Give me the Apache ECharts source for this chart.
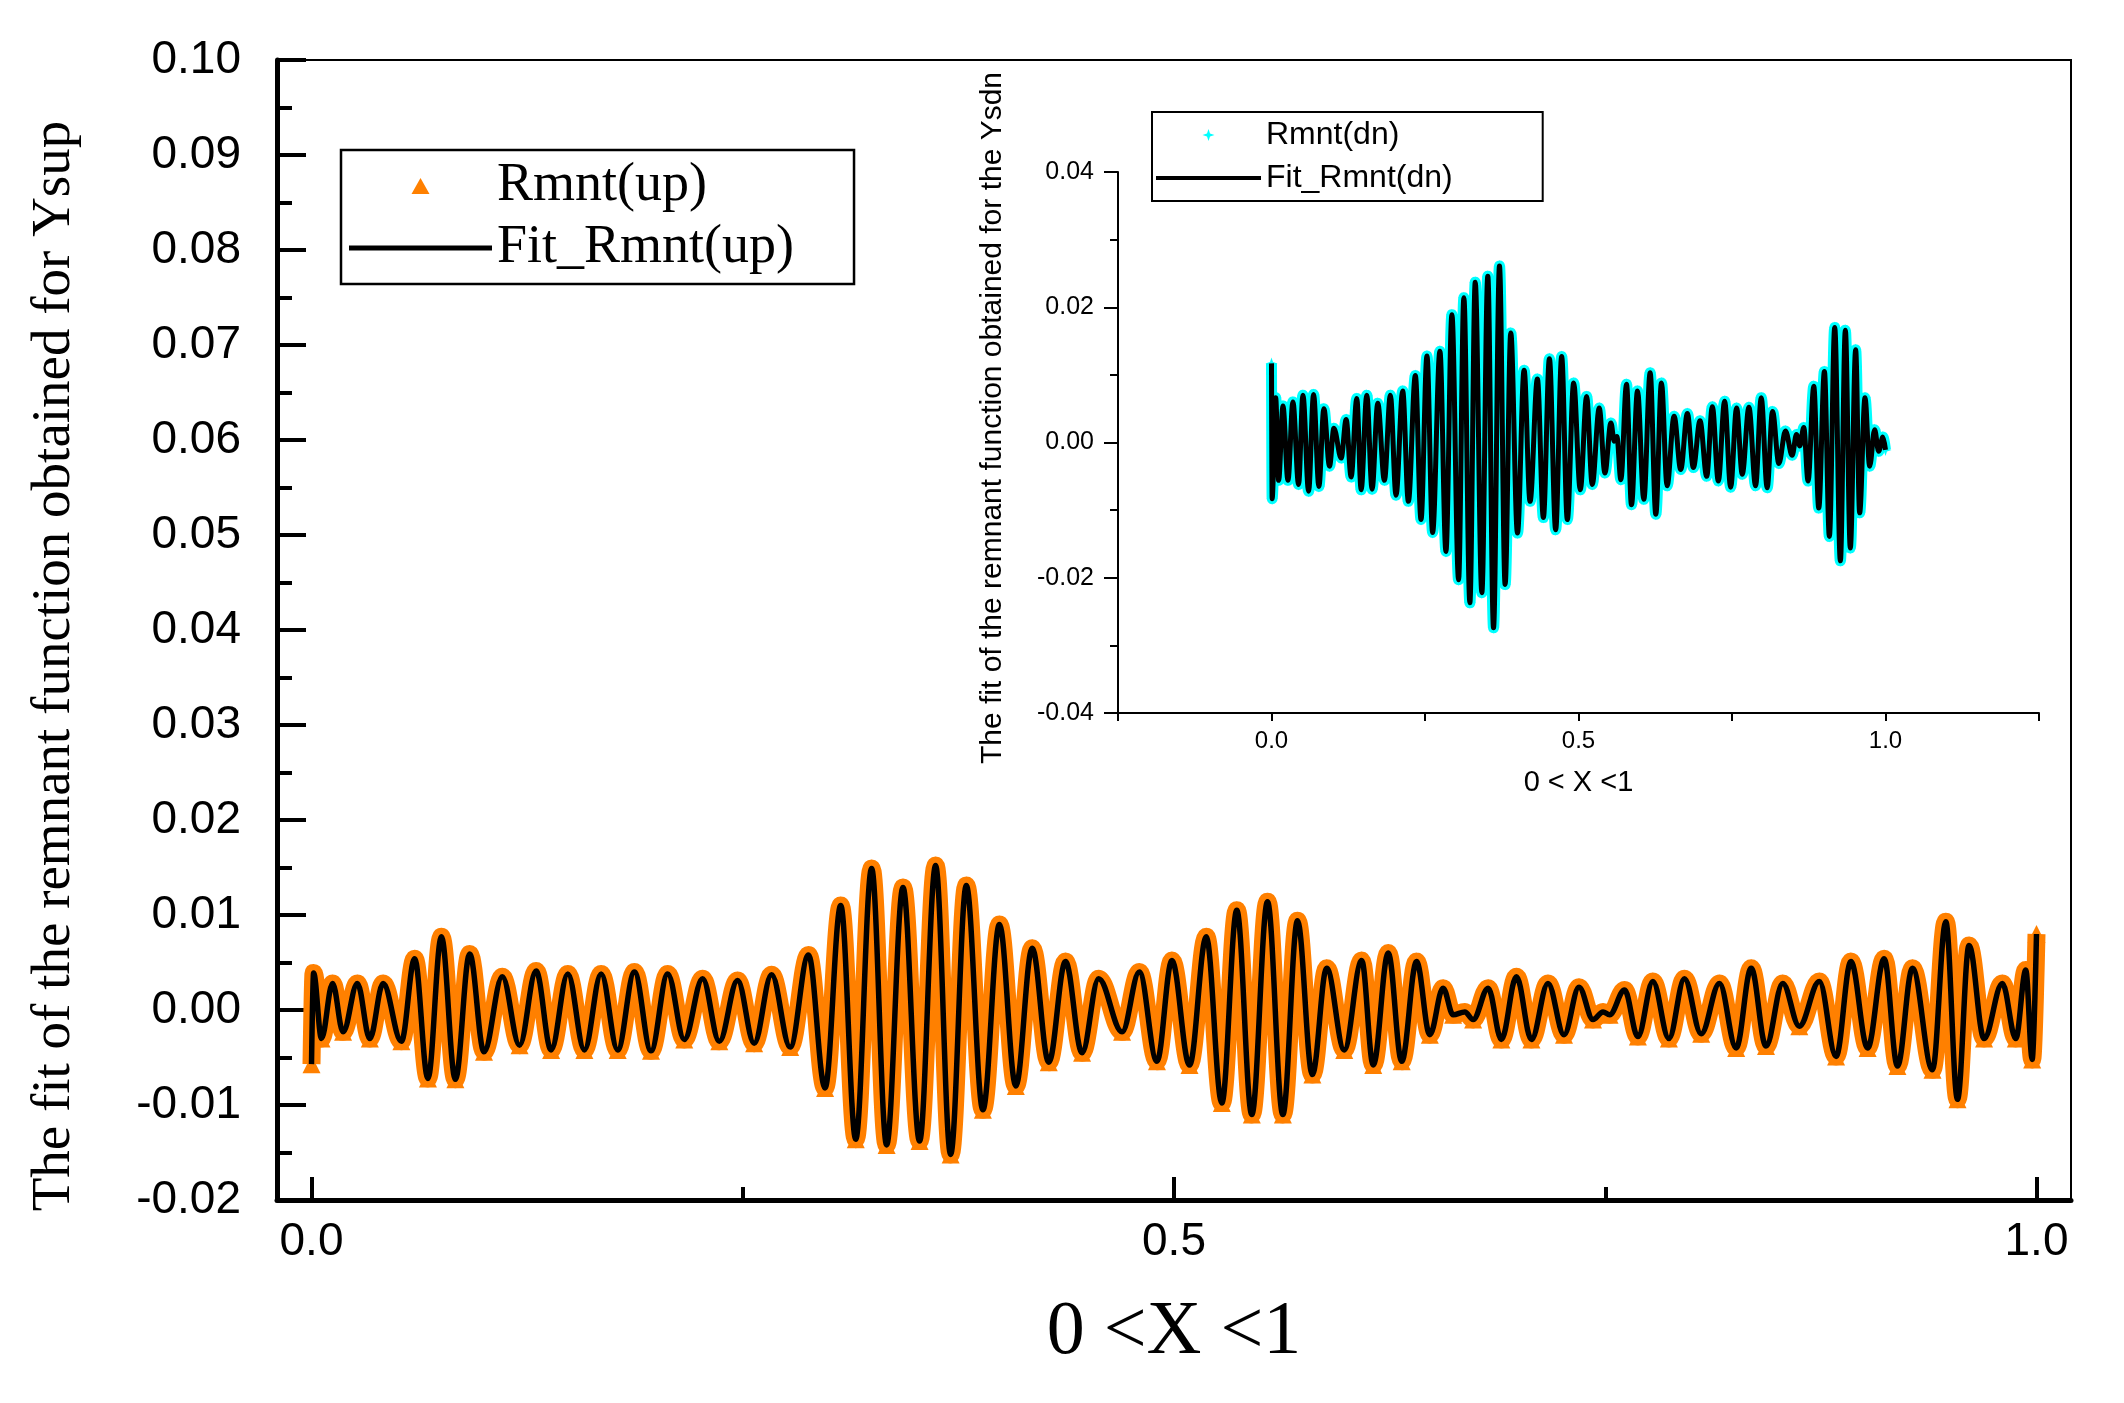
<!DOCTYPE html>
<html>
<head>
<meta charset="utf-8">
<script src="https://cdn.jsdelivr.net/npm/echarts@6/dist/echarts.min.js"></script>
<style>
html,body{margin:0;padding:0;background:#fff;}
#chart{width:2124px;height:1403px;}
</style>
</head>
<body>
<div id="chart"></div>
<script>
// ---------- Main plot (Ysup) : x positions and values ----------
const upX = [0.0000,0.0012,0.0058,0.0122,0.0183,0.0266,0.0338,0.0415,0.0521,0.0598,
0.0675,0.0753,0.0834,0.0917,0.1000,0.1106,0.1206,0.1302,0.1389,0.1486,
0.1582,0.1679,0.1775,0.1872,0.1968,0.2065,0.2161,0.2267,0.2364,0.2470,
0.2566,0.2667,0.2775,0.2881,0.2977,0.3068,0.3155,0.3247,0.3334,0.3429,
0.3525,0.3618,0.3705,0.3796,0.3892,0.3988,0.4083,0.4178,0.4274,0.4371,
0.4467,0.4563,0.4699,0.4799,0.4901,0.4988,0.5090,0.5187,0.5277,0.5364,
0.5451,0.5542,0.5631,0.5716,0.5802,0.5885,0.5987,0.6088,0.6155,0.6242,
0.6320,0.6406,0.6483,0.6560,0.6618,0.6686,0.6734,0.6821,0.6898,0.6985,
0.7072,0.7168,0.7261,0.7348,0.7429,0.7487,0.7525,0.7612,0.7689,0.7776,
0.7869,0.7959,0.8056,0.8162,0.8259,0.8346,0.8432,0.8529,0.8625,0.8741,
0.8838,0.8924,0.9021,0.9117,0.9194,0.9281,0.9397,0.9474,0.9542,0.9609,
0.9696,0.9802,0.9880,0.9938,0.9975,1.0000];
const upY = [-0.0057,0.0039,-0.0030,0.0028,-0.0023,0.0028,-0.0030,0.0028,-0.0033,0.0054,
-0.0072,0.0077,-0.0073,0.0059,-0.0044,0.0035,-0.0037,0.0041,-0.0042,0.0038,
-0.0042,0.0038,-0.0042,0.0040,-0.0043,0.0038,-0.0031,0.0033,-0.0033,0.0031,
-0.0035,0.0037,-0.0039,0.0058,-0.0082,0.0110,-0.0136,0.0149,-0.0142,0.0129,
-0.0138,0.0152,-0.0152,0.0131,-0.0105,0.0090,-0.0080,0.0065,-0.0055,0.0051,
-0.0045,0.0033,-0.0023,0.0040,-0.0054,0.0052,-0.0058,0.0077,-0.0098,0.0105,
-0.0110,0.0114,-0.0110,0.0094,-0.0068,0.0044,-0.0042,0.0052,-0.0058,0.0060,
-0.0054,0.0051,-0.0026,0.0023,-0.0005,-0.0002,-0.0010,0.0023,-0.0031,0.0035,
-0.0031,0.0028,-0.0026,0.0024,-0.0010,-0.0002,-0.0005,0.0021,-0.0028,0.0030,
-0.0030,0.0033,-0.0025,0.0028,-0.0040,0.0044,-0.0038,0.0028,-0.0017,0.0030,
-0.0049,0.0051,-0.0040,0.0054,-0.0059,0.0044,-0.0063,0.0093,-0.0094,0.0068,
-0.0030,0.0028,-0.0030,0.0042,-0.0052,0.0080];

// ---------- Inset plot (Ysdn) ----------
const dnX = [0.0000,0.0010,0.0068,0.0116,0.0187,0.0268,0.0349,0.0441,0.0512,0.0604,
0.0685,0.0772,0.0853,0.0945,0.1016,0.1135,0.1216,0.1297,0.1389,0.1460,
0.1552,0.1638,0.1731,0.1839,0.1936,0.2028,0.2137,0.2229,0.2343,0.2435,
0.2532,0.2624,0.2743,0.2841,0.2938,0.3047,0.3133,0.3231,0.3318,0.3426,
0.3523,0.3616,0.3713,0.3805,0.3897,0.4006,0.4114,0.4211,0.4331,0.4428,
0.4526,0.4628,0.4726,0.4818,0.4921,0.5029,0.5132,0.5224,0.5338,0.5430,
0.5528,0.5582,0.5625,0.5690,0.5782,0.5863,0.5961,0.6064,0.6167,0.6259,
0.6351,0.6443,0.6557,0.6665,0.6773,0.6871,0.6979,0.7088,0.7180,0.7277,
0.7380,0.7478,0.7575,0.7667,0.7776,0.7884,0.7976,0.8073,0.8160,0.8263,
0.8371,0.8480,0.8550,0.8604,0.8669,0.8739,0.8832,0.8913,0.9005,0.9086,
0.9173,0.9265,0.9346,0.9427,0.9514,0.9579,0.9666,0.9742,0.9823,0.9888,
0.9958,1.0000];
const dnY = [0.0117,-0.0083,0.0066,-0.0056,0.0054,-0.0056,0.0060,-0.0062,0.0070,-0.0072,
0.0071,-0.0065,0.0050,-0.0035,0.0021,-0.0023,0.0034,-0.0051,0.0065,-0.0070,
0.0070,-0.0069,0.0058,-0.0056,0.0070,-0.0078,0.0076,-0.0087,0.0099,-0.0114,
0.0128,-0.0133,0.0135,-0.0161,0.0189,-0.0203,0.0214,-0.0237,0.0237,-0.0222,
0.0246,-0.0274,0.0261,-0.0210,0.0162,-0.0134,0.0107,-0.0087,0.0094,-0.0111,
0.0124,-0.0129,0.0127,-0.0114,0.0088,-0.0070,0.0068,-0.0062,0.0051,-0.0045,
0.0029,0.0002,0.0009,-0.0055,0.0086,-0.0092,0.0076,-0.0084,0.0103,-0.0106,
0.0088,-0.0064,0.0039,-0.0040,0.0043,-0.0037,0.0032,-0.0050,0.0053,-0.0057,
0.0061,-0.0066,0.0051,-0.0047,0.0052,-0.0064,0.0066,-0.0067,0.0046,-0.0031,
0.0017,-0.0019,0.0012,-0.0005,0.0022,-0.0057,0.0083,-0.0097,0.0105,-0.0139,
0.0170,-0.0175,0.0166,-0.0156,0.0137,-0.0104,0.0066,-0.0035,0.0019,-0.0013,
0.0008,-0.0011];

// tick / label positions
const mainXLabelValues = [0, 0.5, 1.0];
const mainXMinorTicks = [0.25, 0.75];
const insetXLabelValues = [0, 0.5, 1.0];

const upData = upX.map((x, i) => [x, upY[i]]);
const dnData = dnX.map((x, i) => [x, dnY[i]]);

const SERIF = "'Liberation Serif','Times New Roman',serif";
const SANS = "'Liberation Sans',Arial,sans-serif";
const starPath = 'path://M0,-10L2.5,-2.5L10,0L2.5,2.5L0,10L-2.5,2.5L-10,0L-2.5,-2.5Z';
const triPath = 'path://M0,-10L9,6L-9,6Z';

const chart = echarts.init(document.getElementById('chart'), null, {renderer: 'canvas'});
chart.setOption({
  animation: false,
  backgroundColor: '#fff',
  grid: [
    {left: 277, top: 60, width: 1794, height: 1140, show: true, borderColor: '#000', borderWidth: 2, backgroundColor: 'transparent'},
    {left: 1118, top: 172, width: 921, height: 541, show: false}
  ],
  legend: [
    {
      orient: 'vertical', left: 341, top: 150,
      itemWidth: 143, itemHeight: 16, itemGap: 8, itemTextGap: 13,
      padding: [9, 60, 9, 8], symbolKeepAspect: true,
      borderColor: '#000', borderWidth: 2.5, selectedMode: false,
      textStyle: {fontFamily: SERIF, fontSize: 54, color: '#000', lineHeight: 52},
      data: [
        {name: 'Rmnt(up)', icon: triPath, itemStyle: {color: '#FF8000', borderWidth: 0}},
        {name: 'Fit_Rmnt(up)', icon: 'path://M0 0H143V5H0Z', itemStyle: {color: '#000', borderWidth: 0}}
      ]
    },
    {
      orient: 'vertical', left: 1152, top: 112,
      itemWidth: 105, itemHeight: 12, itemGap: 11, itemTextGap: 12,
      padding: [7, 90, 7, 4], symbolKeepAspect: true,
      borderColor: '#000', borderWidth: 2, selectedMode: false,
      textStyle: {fontFamily: SANS, fontSize: 32, color: '#000', lineHeight: 31},
      data: [
        {name: 'Rmnt(dn)', icon: starPath, itemStyle: {color: '#00FFFF', borderWidth: 0}},
        {name: 'Fit_Rmnt(dn)', icon: 'path://M0 0H105V4H0Z', itemStyle: {color: '#000', borderWidth: 0}}
      ]
    }
  ],
  xAxis: [
    {
      gridIndex: 0, type: 'value', min: -0.02, max: 1.02, position: 'bottom',
      axisLine: {show: true, onZero: false, lineStyle: {color: '#000', width: 5}},
      axisTick: {show: true, inside: true, length: 23, lineStyle: {color: '#000', width: 4}, customValues: mainXLabelValues},
      axisLabel: {show: true, customValues: mainXLabelValues, formatter: v => v.toFixed(1), fontFamily: SANS, fontSize: 46, color: '#000', margin: 19},
      splitLine: {show: false},
      name: '0 <X <1', nameLocation: 'middle', nameGap: 97,
      nameTextStyle: {fontFamily: SERIF, fontSize: 76, color: '#000', lineHeight: 72}
    },
    {
      gridIndex: 0, type: 'value', min: -0.02, max: 1.02, position: 'bottom',
      axisLine: {show: false, onZero: false},
      axisTick: {show: true, inside: true, length: 13, lineStyle: {color: '#000', width: 4}, customValues: mainXMinorTicks},
      axisLabel: {show: false},
      splitLine: {show: false}
    },
    {
      gridIndex: 1, type: 'value', min: -0.25, max: 1.25, interval: 0.25, position: 'bottom',
      axisLine: {show: true, onZero: false, lineStyle: {color: '#000', width: 2}},
      axisTick: {show: true, inside: false, length: 8, lineStyle: {color: '#000', width: 2}},
      axisLabel: {
        show: true, fontFamily: SANS, fontSize: 24, color: '#000', margin: 16,
        formatter: v => insetXLabelValues.some(t => Math.abs(t - v) < 1e-9) ? v.toFixed(1) : ''
      },
      splitLine: {show: false},
      name: '0 < X <1', nameLocation: 'middle', nameGap: 56,
      nameTextStyle: {fontFamily: SANS, fontSize: 29, color: '#000', lineHeight: 28}
    }
  ],
  yAxis: [
    {
      gridIndex: 0, type: 'value', min: -0.02, max: 0.10, interval: 0.01, position: 'left',
      axisLine: {show: true, onZero: false, lineStyle: {color: '#000', width: 5}},
      axisTick: {show: true, inside: true, length: 29, lineStyle: {color: '#000', width: 4}},
      minorTick: {show: true, splitNumber: 2, length: 15, lineStyle: {color: '#000', width: 4}},
      axisLabel: {show: true, formatter: v => v.toFixed(2), fontFamily: SANS, fontSize: 46, color: '#000', margin: 36},
      splitLine: {show: false},
      name: 'The fit of the remnant function obtained for Ysup', nameLocation: 'middle', nameGap: 195,
      nameTextStyle: {fontFamily: SERIF, fontSize: 55, color: '#000', padding: [0, 72, 0, 0]}
    },
    {
      gridIndex: 1, type: 'value', min: -0.04, max: 0.04, interval: 0.02, position: 'left',
      axisLine: {show: true, onZero: false, lineStyle: {color: '#000', width: 2}},
      axisTick: {show: true, inside: false, length: 14, lineStyle: {color: '#000', width: 2}},
      minorTick: {show: true, splitNumber: 2, length: 8, lineStyle: {color: '#000', width: 2}},
      axisLabel: {show: true, formatter: v => v.toFixed(2), fontFamily: SANS, fontSize: 25, color: '#000', margin: 24},
      splitLine: {show: false},
      name: 'The fit of the remnant function obtained for the Ysdn', nameLocation: 'middle', nameGap: 110,
      nameTextStyle: {fontFamily: SANS, fontSize: 30, color: '#000', padding: [0, 0, 0, 49]}
    }
  ],
  series: [
    {
      name: 'Rmnt(up)', type: 'line', xAxisIndex: 0, yAxisIndex: 0, data: upData,
      smooth: 0.36, smoothMonotone: 'x',
      symbol: 'triangle', symbolSize: 18, showSymbol: true,
      itemStyle: {color: '#FF8000'},
      lineStyle: {color: '#FF8000', width: 18},
      z: 2, silent: true
    },
    {
      name: 'Fit_Rmnt(up)', type: 'line', xAxisIndex: 0, yAxisIndex: 0, data: upData,
      smooth: 0.36, smoothMonotone: 'x', symbol: 'none',
      itemStyle: {color: '#000'},
      lineStyle: {color: '#000', width: 5.5},
      z: 3, silent: true
    },
    {
      name: 'Rmnt(dn)', type: 'line', xAxisIndex: 2, yAxisIndex: 1, data: dnData,
      smooth: 0.36, smoothMonotone: 'x',
      symbol: starPath, symbolSize: 12, showSymbol: true,
      itemStyle: {color: '#00FFFF'},
      lineStyle: {color: '#00FFFF', width: 11},
      z: 2, silent: true
    },
    {
      name: 'Fit_Rmnt(dn)', type: 'line', xAxisIndex: 2, yAxisIndex: 1, data: dnData,
      smooth: 0.36, smoothMonotone: 'x', symbol: 'none',
      itemStyle: {color: '#000'},
      lineStyle: {color: '#000', width: 5},
      z: 3, silent: true
    }
  ]
});
</script>
</body>
</html>
